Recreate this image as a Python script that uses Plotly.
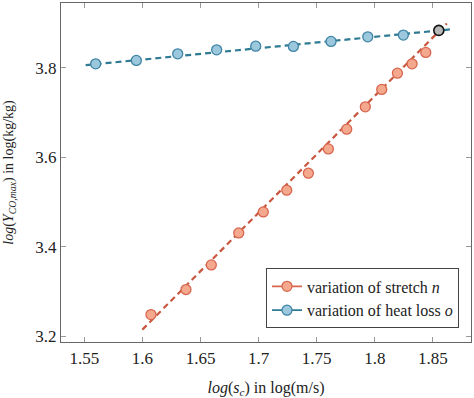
import plotly.graph_objects as go

# ---- data ----
stretch_x = [1.6074, 1.6375, 1.6593, 1.6829, 1.7040, 1.7242, 1.7428, 1.7600,
             1.7758, 1.7918, 1.8059, 1.8194, 1.8320, 1.8438]
stretch_y = [3.2483, 3.3043, 3.3593, 3.4309, 3.4779, 3.5264, 3.5644, 3.6188,
             3.6629, 3.7128, 3.7517, 3.7881, 3.8089, 3.8345]

heat_x = [1.5598, 1.5948, 1.6304, 1.6639, 1.6975, 1.7299, 1.7623, 1.7939, 1.8245]
heat_y = [3.8089, 3.8166, 3.8313, 3.8403, 3.8485, 3.8479, 3.8591, 3.8694, 3.8732]

ref_x = [1.8550]
ref_y = [3.8837]

stretch_fit_x = [1.6000, 1.8619]
stretch_fit_y = [3.2147, 3.8993]
heat_fit_x = [1.5512, 1.8647]
heat_fit_y = [3.8060, 3.8859]

x_ticks = [1.55, 1.6, 1.65, 1.7, 1.75, 1.8, 1.85]
x_tick_labels = ["1.55", "1.6", "1.65", "1.7", "1.75", "1.8", "1.85"]
y_ticks = [3.2, 3.4, 3.6, 3.8]
y_tick_labels = ["3.2", "3.4", "3.6", "3.8"]

# ---- styles ----
RED_LINE = "#c8573f"
RED_FILL = "#f4a98f"
RED_EDGE = "#d8664e"
BLUE_LINE = "#2e7b93"
BLUE_FILL = "#9cc8de"
BLUE_EDGE = "#3f84a5"
FONT = "Liberation Serif"

fig = go.Figure()

fig.add_trace(go.Scatter(x=heat_fit_x, y=heat_fit_y, mode="lines",
                         line=dict(color=BLUE_LINE, width=2.2, dash="6px,4px"),
                         showlegend=False, hoverinfo="skip"))
fig.add_trace(go.Scatter(x=stretch_fit_x, y=stretch_fit_y, mode="lines",
                         line=dict(color=RED_LINE, width=2.2, dash="6px,4px"),
                         showlegend=False, hoverinfo="skip"))

fig.add_trace(go.Scatter(x=heat_x, y=heat_y, mode="markers",
                         marker=dict(size=10, color=BLUE_FILL,
                                     line=dict(color=BLUE_EDGE, width=1.3)),
                         showlegend=False))
fig.add_trace(go.Scatter(x=stretch_x, y=stretch_y, mode="markers",
                         marker=dict(size=10, color=RED_FILL,
                                     line=dict(color=RED_EDGE, width=1.3)),
                         showlegend=False))
fig.add_trace(go.Scatter(x=ref_x, y=ref_y, mode="markers",
                         marker=dict(size=10, color="#b8b8b8",
                                     line=dict(color="#111111", width=1.6)),
                         showlegend=False))

# legend entries
fig.add_trace(go.Scatter(x=[None], y=[None], mode="lines+markers",
                         name="variation of stretch <i>n</i>",
                         line=dict(color=RED_EDGE, width=1.6),
                         marker=dict(size=10, color=RED_FILL,
                                     line=dict(color=RED_EDGE, width=1.3))))
fig.add_trace(go.Scatter(x=[None], y=[None], mode="lines+markers",
                         name="variation of heat loss <i>o</i>",
                         line=dict(color=BLUE_LINE, width=1.6),
                         marker=dict(size=10, color=BLUE_FILL,
                                     line=dict(color=BLUE_EDGE, width=1.3))))

axis_common = dict(showline=True, linecolor="#666666", linewidth=1.3, mirror="ticks",
                   ticks="inside", ticklen=5, tickcolor="#999999", tickwidth=1,
                   showgrid=False, zeroline=False, automargin=False,
                   tickfont=dict(family=FONT, size=17, color="#222222"))

fig.update_layout(
    width=474, height=398,
    margin=dict(l=61, r=3, t=3, b=56),
    paper_bgcolor="white", plot_bgcolor="white",
    font=dict(family=FONT, color="#222222"),
    xaxis=dict(range=[1.53, 1.8827], tickvals=x_ticks, ticktext=x_tick_labels,
               title=dict(text="<i>log</i>(<i>s<sub>c</sub></i>) in log(m/s)",
                          font=dict(family=FONT, size=16), standoff=17),
               **axis_common),
    yaxis=dict(range=[3.187, 3.945], tickvals=y_ticks, ticktext=y_tick_labels,
               title=dict(text="<i>log</i>(<i>Y<sub>CO,max</sub></i>) in log(kg/kg)",
                          font=dict(family=FONT, size=14), standoff=18),
               **axis_common),
    legend=dict(x=0.5, y=0.04, xanchor="left", yanchor="bottom",
                bordercolor="#444444", borderwidth=1, bgcolor="white",
                font=dict(family=FONT, size=16, color="#222222"),
                tracegroupgap=0, itemsizing="trace"),
)

fig.write_html("out.html", config={"displayModeBar": False},
               post_script="document.body.style.margin='0';document.body.style.overflow='hidden';")
